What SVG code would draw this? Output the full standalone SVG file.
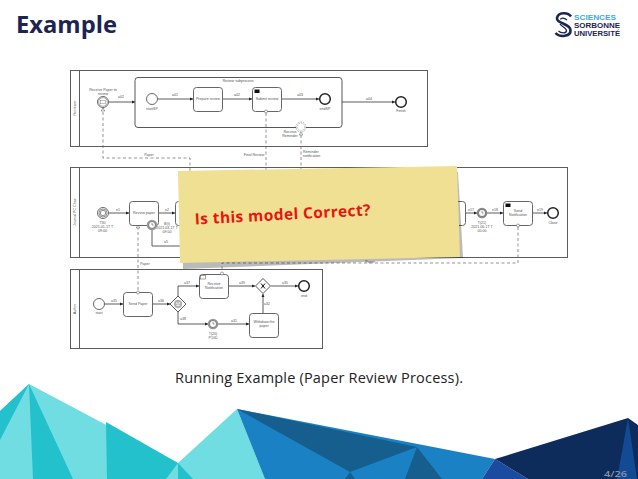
<svg xmlns="http://www.w3.org/2000/svg" width="638" height="479" viewBox="0 0 638 479">
<style>
.pool{fill:#fff;stroke:#5c5c5c;stroke-width:1}
.div{stroke:#5c5c5c;stroke-width:1}
.task{fill:#fff;stroke:#666;stroke-width:1}
.ev{fill:#fff;stroke:#444;stroke-width:.8}
.end{fill:#fff;stroke:#222;stroke-width:1.5}
.gw{fill:#fff;stroke:#444;stroke-width:.9}
.flow{fill:none;stroke:#333;stroke-width:.8}
.msg{fill:none;stroke:#666;stroke-width:.7;stroke-dasharray:3 2.5}
.t{font-family:"Liberation Sans",Arial,sans-serif;font-size:3.6px;fill:#555;text-anchor:middle}
.cm{font-family:"Open Sans",sans-serif}
.logo{font-family:"Liberation Sans",Arial,sans-serif;font-size:7.4px;font-weight:bold}
</style>
<defs>
<marker id="arr" markerWidth="4" markerHeight="4" refX="3.4" refY="2" orient="auto" markerUnits="userSpaceOnUse"><path d="M0 .4L3.6 2L0 3.6z" fill="#222"/></marker>
</defs>
<rect width="638" height="479" fill="#fff"/>
<text class="cm" x="16" y="33" font-size="23.500" font-weight="700" fill="#1c2452" textLength="101" lengthAdjust="spacingAndGlyphs">Example</text>
<g id="logo">
<path d="M571 16.500C568 12 558 12 557 18C556 23.500 570 23.500 570.500 30C571 36.500 560 38 555.500 33" fill="none" stroke="#1c2452" stroke-width="2.600"/>
<path d="M567 20C564 17.500 561 17.500 560.500 19.500M560 24C562 27 567 28 566.500 31C566 33.500 561 33.500 558.500 31" fill="none" stroke="#1c2452" stroke-width="1.300"/>
<text class="logo" x="574" y="19.500" fill="#41a8dc" textLength="42" lengthAdjust="spacingAndGlyphs">SCIENCES</text>
<text class="logo" x="574" y="28" fill="#1c2452" textLength="46" lengthAdjust="spacingAndGlyphs">SORBONNE</text>
<text class="logo" x="574" y="36" fill="#1c2452" textLength="46" lengthAdjust="spacingAndGlyphs">UNIVERSITÉ</text>
</g>
<g id="pool-reviewer">
<rect class="pool" x="70.500" y="70.500" width="357" height="76"/><line class="div" x1="79.500" y1="70.500" x2="79.500" y2="146.500"/>
<text class="t" transform="translate(76,108) rotate(-90)">Reviewer</text>
</g>
<g id="pool-chair">
<rect class="pool" x="70.500" y="167.500" width="497" height="90"/><line class="div" x1="79.500" y1="167.500" x2="79.500" y2="257.500"/>
<text class="t" transform="translate(76,212) rotate(-90)">Journal PC Chair</text>
</g>
<g id="pool-author">
<rect class="pool" x="70.500" y="269.500" width="252" height="79"/><line class="div" x1="79.500" y1="269.500" x2="79.500" y2="348.500"/>
<text class="t" transform="translate(76,309) rotate(-90)">Author</text>
</g>
<g id="connectors">
<path class="flow" marker-end="url(#arr)" d="M108.500 102H135"/>
<path class="flow" marker-end="url(#arr)" d="M157.500 99H193"/>
<path class="flow" marker-end="url(#arr)" d="M223 99H252"/>
<path class="flow" marker-end="url(#arr)" d="M281 99H319"/>
<path class="flow" marker-end="url(#arr)" d="M342 102H395"/>
<path class="flow" marker-end="url(#arr)" d="M108.500 213H129"/>
<path class="flow" marker-end="url(#arr)" d="M158 213H175"/>
<path class="flow" d="M152 230V246H185"/>
<path class="flow" marker-end="url(#arr)" d="M465 213H477"/>
<path class="flow" marker-end="url(#arr)" d="M487 213H503"/>
<path class="flow" marker-end="url(#arr)" d="M532 213H547"/>
<path class="flow" marker-end="url(#arr)" d="M104.500 304H123"/>
<path class="flow" marker-end="url(#arr)" d="M152 304H170"/>
<path class="flow" marker-end="url(#arr)" d="M178 296V286H199"/>
<path class="flow" marker-end="url(#arr)" d="M178 312V324H208"/>
<path class="flow" marker-end="url(#arr)" d="M228 286H255"/>
<path class="flow" marker-end="url(#arr)" d="M271 286H298"/>
<path class="flow" marker-end="url(#arr)" d="M218 324H249"/>
<path class="flow" marker-end="url(#arr)" d="M263 313V294"/>
<path class="msg" d="M190 171V158H103V108"/>
<path class="msg" d="M266 113V171"/>
<path class="msg" d="M301 171V133"/>
<path class="msg" d="M138 290V226"/>
<path class="msg" d="M518 227V263H222V271"/>
<path d="M103 108l-1.800 3h3.600z M138 225l-1.800 3h3.600z M301 132l-1.800 3h3.600z" fill="#fff" stroke="#555" stroke-width=".5"/>
<text class="t" x="121" y="98">a02</text><text class="t" x="175" y="96">a01</text><text class="t" x="237" y="96">a02</text><text class="t" x="300" y="96">a03</text><text class="t" x="369" y="100">a04</text>
<text class="t" x="149" y="156">Paper</text><text class="t" x="254" y="156">Final Review</text>
<text class="t" x="303" y="153" style="text-anchor:start">Reminder</text><text class="t" x="303" y="157" style="text-anchor:start">notification</text>
<text class="t" x="118" y="211">e1</text><text class="t" x="167" y="211">e2</text><text class="t" x="166" y="243">a5</text>
<text class="t" x="471" y="211">e17</text><text class="t" x="495" y="211">e18</text><text class="t" x="540" y="211">e19</text>
<text class="t" x="145" y="265">Paper</text><text class="t" x="370" y="263">Paper</text>
<text class="t" x="114" y="302">a35</text><text class="t" x="161" y="302">a36</text><text class="t" x="187" y="284">a37</text><text class="t" x="183" y="320">a38</text>
<text class="t" x="242" y="284">a39</text><text class="t" x="285" y="284">a35</text><text class="t" x="234" y="322">a31</text><text class="t" x="267" y="305">a32</text>
</g>
<g id="subprocess"><rect x="135" y="77.500" width="207" height="50" rx="3" fill="none" stroke="#444" stroke-width=".9"/><text class="t" x="238" y="82">Review subprocess</text></g>
<g id="receive-paper"><circle class="ev" cx="103" cy="102" r="5.500"/><circle cx="103" cy="102" r="4.300" fill="#fff" stroke="#777" stroke-width=".6"/><rect x="100.500" y="100.300" width="5" height="3.500" fill="#fff" stroke="#666" stroke-width=".4"/><text class="t" x="103" y="91">Receive Paper to</text><text class="t" x="103" y="95">review</text></g>
<g id="startSP"><circle class="ev" cx="152" cy="99" r="5.500"/><text class="t" x="152" y="110">startSP</text></g>
<g id="prepare-review"><rect class="task" x="193.500" y="87.500" width="29" height="24" rx="3"/><text class="t" x="208" y="100">Prepare review</text></g>
<g id="submit-review"><rect class="task" x="252.500" y="87.500" width="29" height="24" rx="3"/><rect x="254.500" y="89.500" width="5" height="3.500" fill="#111"/><text class="t" x="267" y="100">Submit review</text><circle cx="266" cy="111.500" r="1.500" fill="#fff" stroke="#444" stroke-width=".5"/></g>
<g id="endSP"><circle class="end" cx="325" cy="99" r="5.300"/><text class="t" x="325" y="110">endSP</text></g>
<g id="finish"><circle class="end" cx="401" cy="102" r="5.300"/><text class="t" x="401" y="112">Finish</text></g>
<g id="receive-reminder"><circle cx="301" cy="127" r="5" fill="#fff" stroke="#777" stroke-width=".6" stroke-dasharray="1.500 1"/><circle cx="301" cy="127" r="3.800" fill="none" stroke="#777" stroke-width=".5" stroke-dasharray="1.500 1"/><text class="t" x="290" y="133">Receive</text><text class="t" x="290" y="137">Reminder</text></g>
<g id="t30"><circle class="ev" cx="103" cy="213" r="5.500"/><circle cx="103" cy="213" r="4" fill="#fff" stroke="#666" stroke-width=".7"/><circle cx="103" cy="213" r="2.700" fill="#fff" stroke="#444" stroke-width=".6"/><text class="t" x="102.500" y="224">T30</text><text class="t" x="102.500" y="228">2021-01-1T T</text><text class="t" x="102.500" y="232">09:00</text></g>
<g id="review-paper"><rect class="task" x="129.500" y="201.500" width="29" height="24" rx="3"/><text class="t" x="144" y="214">Review paper</text></g>
<g id="boundary-timer"><circle cx="152" cy="225" r="5.300" fill="#999"/><circle cx="152" cy="225" r="3.400" fill="#fff" stroke="#333" stroke-width=".5"/><path d="M152 223v2h1.500" fill="none" stroke="#333" stroke-width=".5"/><text class="t" x="167" y="225">B(t)</text><text class="t" x="167" y="229">2021-03-1T T</text><text class="t" x="167" y="233">09:00</text></g>
<g id="hidden-task-left"><rect class="task" x="175.500" y="201.500" width="20" height="24" rx="3"/></g>
<g id="hidden-task-right"><rect class="task" x="445.500" y="201.500" width="20" height="24" rx="3"/></g>
<g id="t21"><circle cx="482" cy="213" r="5.300" fill="#888"/><circle cx="482" cy="213" r="3.500" fill="#fff" stroke="#333" stroke-width=".5"/><path d="M482 211v2h1.500" fill="none" stroke="#333" stroke-width=".5"/><text class="t" x="482" y="224">T(21)</text><text class="t" x="482" y="228">2021-06-1T T</text><text class="t" x="482" y="232">00:00</text></g>
<g id="send-notification"><rect class="task" x="503.500" y="201.500" width="29" height="24" rx="3"/><rect x="505.500" y="203.500" width="5" height="3.500" fill="#111"/><text class="t" x="518" y="212">Send</text><text class="t" x="518" y="216">Notification</text><circle cx="518" cy="225.500" r="1.500" fill="#fff" stroke="#444" stroke-width=".5"/></g>
<g id="close"><circle class="end" cx="553" cy="213" r="5.300"/><text class="t" x="553" y="224">Close</text></g>
<g id="start"><circle class="ev" cx="99" cy="304" r="5.500"/><text class="t" x="99" y="314">start</text></g>
<g id="send-paper"><rect class="task" x="123.500" y="292.500" width="29" height="24" rx="3"/><text class="t" x="138" y="305">Send Paper</text><circle cx="138" cy="292.500" r="1.500" fill="#fff" stroke="#444" stroke-width=".5"/></g>
<g id="event-gateway"><path class="gw" d="M178 296l8 8-8 8-8-8z"/><circle cx="178" cy="304" r="3.800" fill="none" stroke="#555" stroke-width=".5"/><circle cx="178" cy="304" r="2.800" fill="none" stroke="#555" stroke-width=".5"/><path d="M178 302l1.700 2.800h-3.400z" fill="none" stroke="#555" stroke-width=".4"/></g>
<g id="receive-notification"><rect class="task" x="199.500" y="274.500" width="29" height="24" rx="3"/><rect x="200.500" y="275.500" width="5" height="3.500" fill="#fff" stroke="#444" stroke-width=".5"/><text class="t" x="214" y="285">Receive</text><text class="t" x="214" y="289">Notification</text><circle cx="222" cy="273.500" r="1.500" fill="#fff" stroke="#444" stroke-width=".5"/></g>
<g id="xor"><path class="gw" d="M263 278.500l7.500 7.500-7.500 7.500-7.500-7.500z"/><path d="M261 283.500l4 5m0-5l-4 5" stroke="#111" stroke-width="1" fill="none"/></g>
<g id="end"><circle class="end" cx="304" cy="286" r="5.300"/><text class="t" x="304" y="297">end</text></g>
<g id="t20"><circle cx="213" cy="324" r="5.300" fill="#999"/><circle cx="213" cy="324" r="3.500" fill="#fff" stroke="#333" stroke-width=".5"/><path d="M213 322v2h1.500" fill="none" stroke="#333" stroke-width=".5"/><text class="t" x="213" y="335">T(20)</text><text class="t" x="213" y="339">P10D</text></g>
<g id="withdraw"><rect class="task" x="249.500" y="313.500" width="29" height="24" rx="3"/><text class="t" x="264" y="323">Withdraw the</text><text class="t" x="264" y="327">paper</text></g>
<g id="note">
<path d="M181 180L458 172L463 258L183 269z" fill="#000" fill-opacity=".27"/>
<path d="M178 171L457 166L460 257L180 263z" fill="#f0e094"/>
<text class="cm" transform="translate(195,224.500) rotate(-3)" font-size="15.500" font-weight="700" fill="#e8150f" textLength="176" lengthAdjust="spacing">Is this model Correct?</text>
</g>
<text class="cm" x="175" y="383" font-size="14.500" fill="#222" textLength="288" lengthAdjust="spacing">Running Example (Paper Review Process).</text>
<g id="footer">
<path d="M0 411L29 384L178 463L237 409L265 479H0z" fill="#6fdde2"/>
<path d="M0 411L29 384L0 440z" fill="#22c1cc"/>
<path d="M29 384L33 479H73z" fill="#22c1cc"/>
<path d="M106 422L178 463L166 479H107z" fill="#22c1cc"/>
<path d="M178 463L193 479H178z" fill="#22c1cc"/>
<path d="M237 409L495 459L482 479H265z" fill="#1a82c4"/>
<path d="M237 409L417 447L350 472z" fill="#165e8e"/>
<path d="M417 447L442 479H405z" fill="#165e8e"/>
<path d="M350 472L345 479H355z" fill="#165e8e"/>
<path d="M495 459L482 479H528z" fill="#1a4ba0"/>
<path d="M495 459L628 418L638 425V479H528z" fill="#0d2b5b"/>
<path d="M628 418L617 479H637z" fill="#124a94"/>
<text x="604" y="477" font-family="'Open Sans',sans-serif" font-size="9" font-weight="600" fill="#8a93a6" textLength="23" lengthAdjust="spacingAndGlyphs">4/26</text>
</g>
</svg>
